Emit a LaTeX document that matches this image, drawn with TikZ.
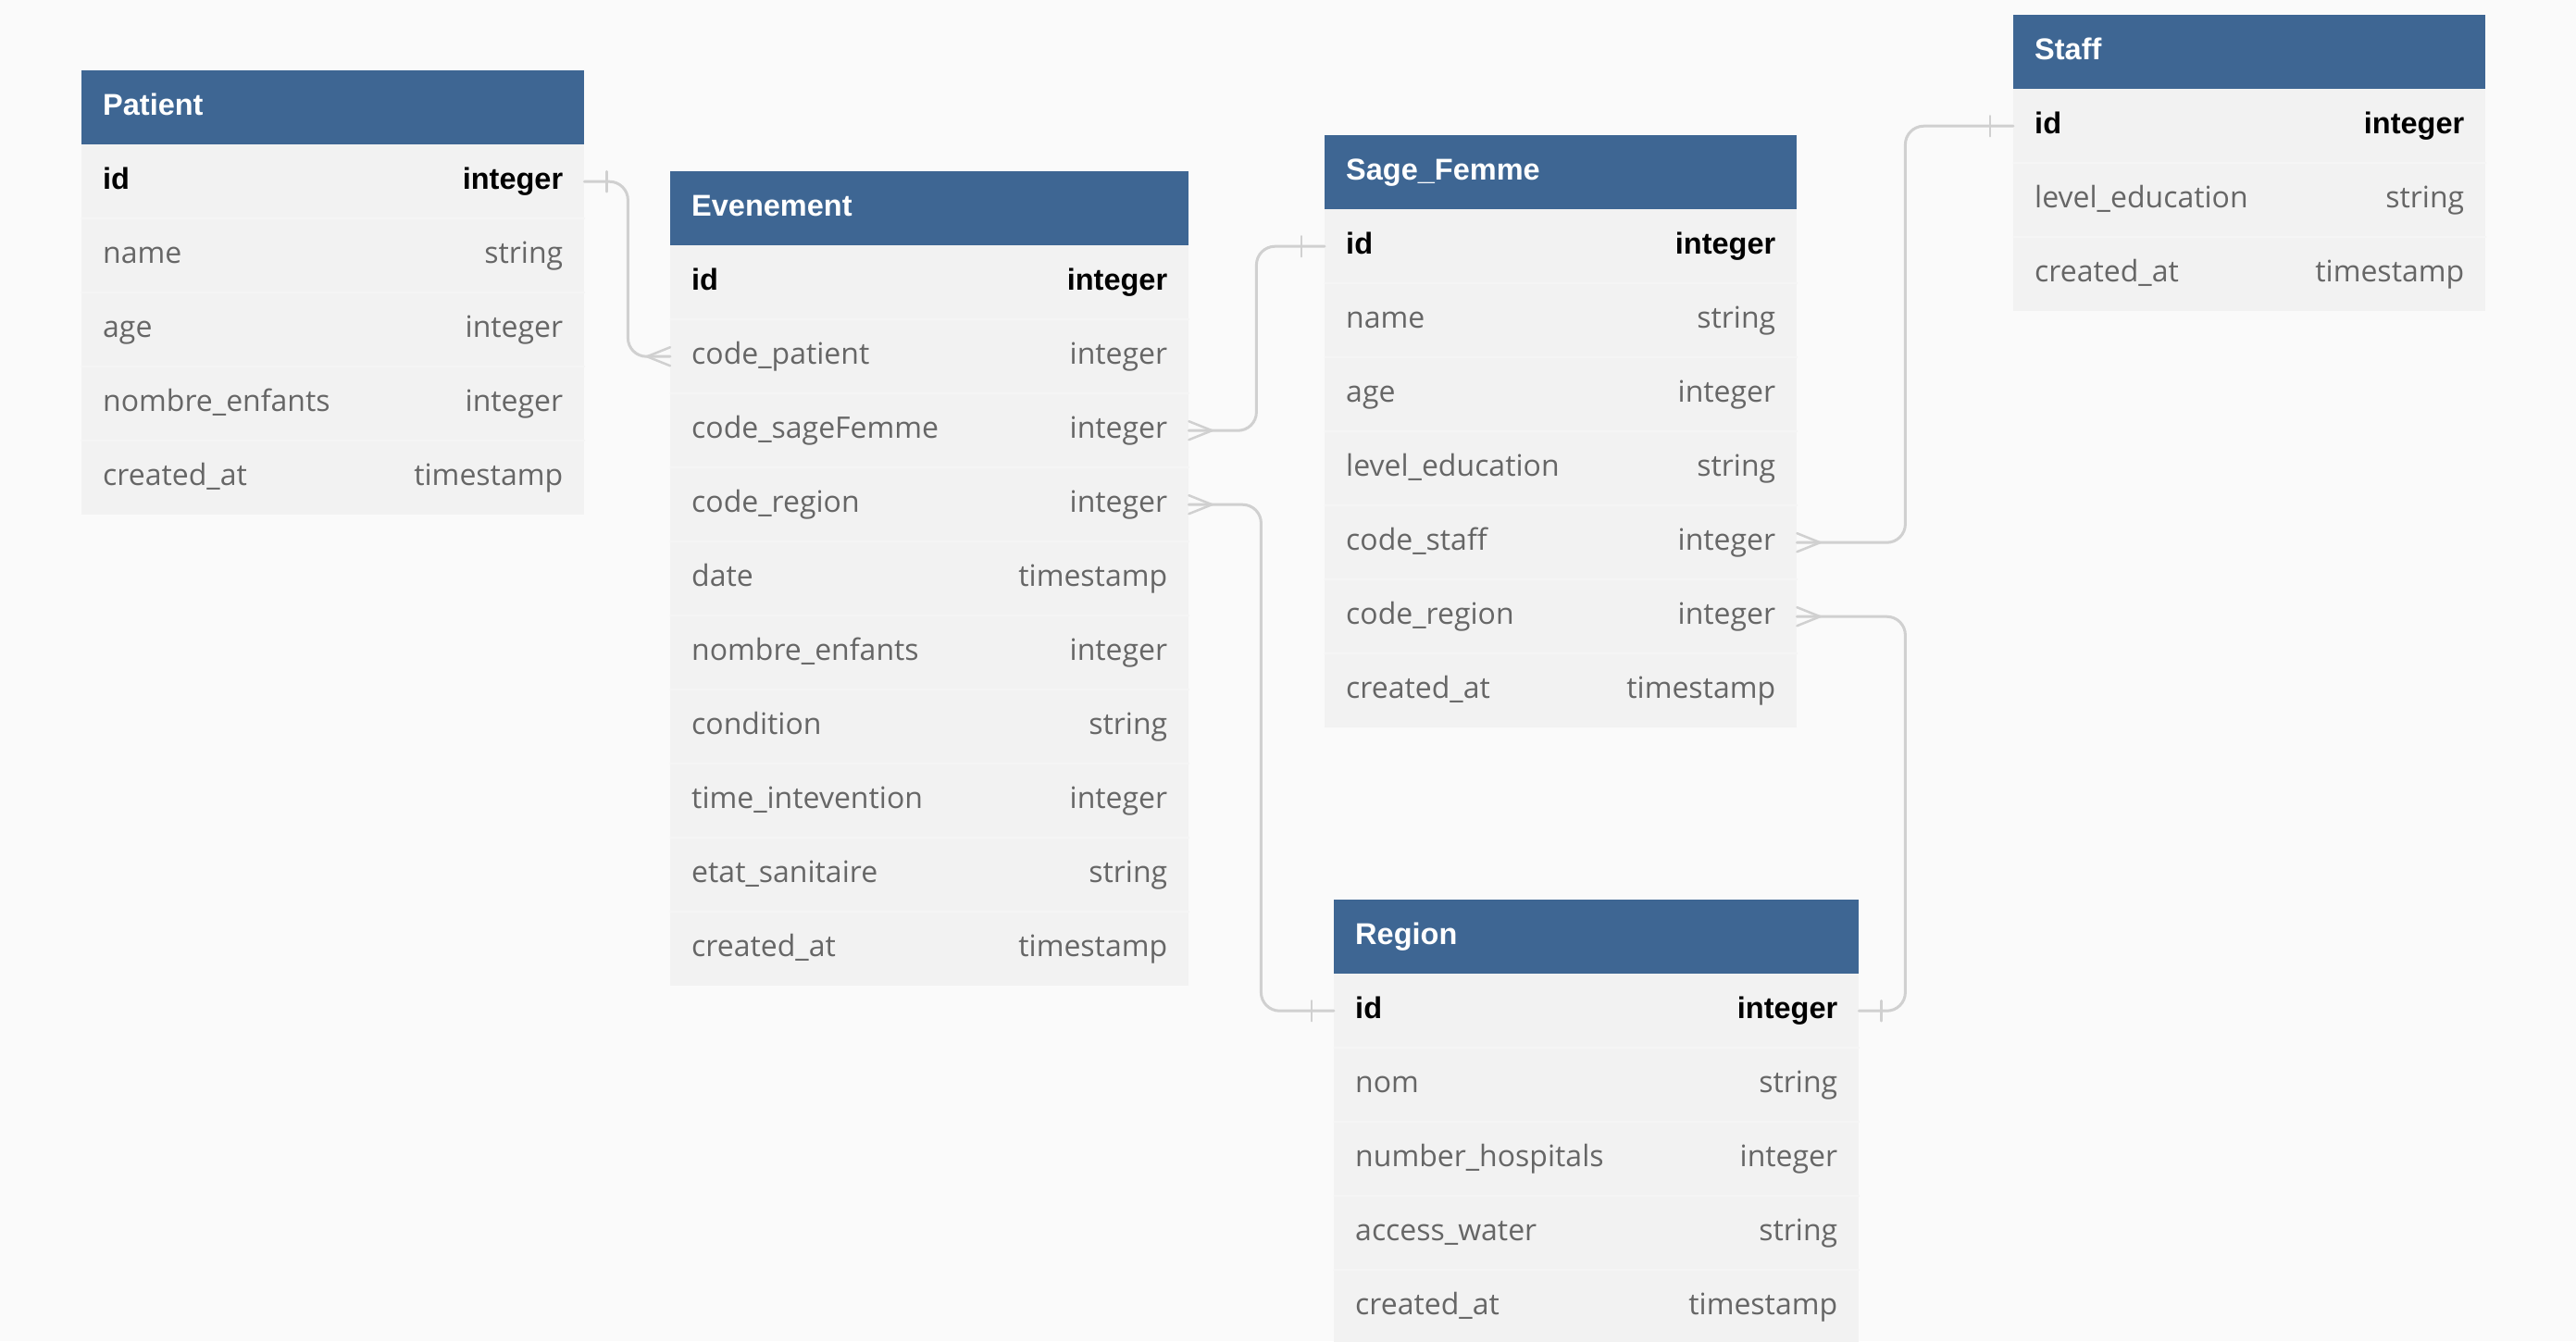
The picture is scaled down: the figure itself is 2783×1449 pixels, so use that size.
\documentclass[tikz,border=0pt]{standalone}
\usepackage{fontspec}
\setmainfont{Open Sans}
\newfontfamily\hfont{Liberation Sans}
\definecolor{hdblue}{HTML}{3E6693}
\definecolor{rowgray}{HTML}{F2F2F2}
\definecolor{bggray}{HTML}{FAFAFA}
\definecolor{txtgray}{HTML}{666666}
\definecolor{relgray}{HTML}{D0D0D0}
\definecolor{sepgray}{HTML}{F5F5F5}
\begin{document}
\begin{tikzpicture}[x=1pt, y=-1pt, line join=round, line cap=round,
	hd/.style={anchor=north west, fill=hdblue, text=white, minimum height=80pt, inner xsep=23pt, inner ysep=0pt, font=\fontsize{32.5}{40}\hfont\bfseries},
	keyrow/.style={anchor=north west, fill=rowgray, text=black, minimum height=80pt, inner xsep=23pt, inner ysep=0pt, font=\fontsize{32.5}{40}\hfont\bfseries},
	row/.style={anchor=north west, fill=rowgray, text=txtgray, minimum height=80pt, inner xsep=23pt, inner ysep=0pt, font=\fontsize{32}{40}\selectfont},
	sep/.style={draw=sepgray, line width=1.2pt},
	rel/.style={draw=relgray, line width=3pt, rounded corners=20pt},
	tick/.style={draw=relgray, line width=2.5pt}]
	\fill[bggray] (0,0) rectangle (2783,1449);
	\useasboundingbox (0,0) rectangle (2783,1449);
	% bang Patient
	\def\w{497}
	\node[hd] (pat) at (88,76) {\makebox[\w pt][l]{\strut Patient}};
	\node[keyrow] (pat1) at (88,156) {\makebox[\w pt]{\strut id\hfill integer}};
	\foreach \n/\t [count=\i from 2] in {name/string,age/integer,nombre\_enfants/integer,created\_at/timestamp}
	\node[row] (pat\i) at (88,76+80*\i) {\makebox[\w pt]{\strut\n\hfill\t}};
	% bang Evenement
	\def\w{514}
	\node[hd] (eve) at (724,185) {\makebox[\w pt][l]{\strut Evenement}};
	\node[keyrow] (eve1) at (724,265) {\makebox[\w pt]{\strut id\hfill integer}};
	\foreach \n/\t [count=\i from 2] in {code\_patient/integer,code\_sageFemme/integer,code\_region/integer,date/timestamp,nombre\_enfants/integer,condition/string,time\_intevention/integer,etat\_sanitaire/string,created\_at/timestamp}
	\node[row] (eve\i) at (724,185+80*\i) {\makebox[\w pt]{\strut\n\hfill\t}};
	% bang Sage_Femme
	\def\w{464}
	\node[hd] (sag) at (1431,146) {\makebox[\w pt][l]{\strut Sage\_Femme}};
	\node[keyrow] (sag1) at (1431,226) {\makebox[\w pt]{\strut id\hfill integer}};
	\foreach \n/\t [count=\i from 2] in {name/string,age/integer,level\_education/string,code\_staff/integer,code\_region/integer,created\_at/timestamp}
	\node[row] (sag\i) at (1431,146+80*\i) {\makebox[\w pt]{\strut\n\hfill\t}};
	% bang Staff
	\def\w{464}
	\node[hd] (sta) at (2175,16) {\makebox[\w pt][l]{\strut Staff}};
	\node[keyrow] (sta1) at (2175,96) {\makebox[\w pt]{\strut id\hfill integer}};
	\foreach \n/\t [count=\i from 2] in {level\_education/string,created\_at/timestamp}
	\node[row] (sta\i) at (2175,16+80*\i) {\makebox[\w pt]{\strut\n\hfill\t}};
	% bang Region
	\def\w{521}
	\node[hd] (reg) at (1441,972) {\makebox[\w pt][l]{\strut Region}};
	\node[keyrow] (reg1) at (1441,1052) {\makebox[\w pt]{\strut id\hfill integer}};
	\foreach \n/\t [count=\i from 2] in {nom/string,number\_hospitals/integer,access\_water/string,created\_at/timestamp}
	\node[row] (reg\i) at (1441,972+80*\i) {\makebox[\w pt]{\strut\n\hfill\t}};
	% duong ke giua cac dong
	\foreach \b/\k in {pat/5,eve/10,sag/7,sta/3,reg/5}
	\foreach \i in {2,...,\k}
	\draw[sep] (\b\i.north west) -- (\b\i.north east);
	% cac quan he
	\draw[rel] (pat1.east) -- ++(47,0) |- (eve2.west);
	\draw[rel] (eve3.east) -- ++(73,0) |- (sag1.west);
	\draw[rel] (eve4.east) -- ++(78,0) |- (reg1.west);
	\draw[rel] (sag5.east) -- ++(117,0) |- (sta1.west);
	\draw[rel] (sag6.east) -- ++(117,0) |- (reg1.east);
	% vach "mot"
	\foreach \p/\s in {pat1.east/24,sag1.west/-25,reg1.west/-24,sta1.west/-25,reg1.east/24}
	\draw[tick] ([xshift=\s pt]\p) ++(0,-11) -- ++(0,22);
	% chan ga "nhieu"
	\foreach \p/\s in {eve2.west/-25,eve3.east/25,eve4.east/25,sag5.east/25,sag6.east/25}
	\draw[tick] ([xshift=\s pt]\p) -- ([yshift=10pt]\p) ([xshift=\s pt]\p) -- ([yshift=-10pt]\p);
\end{tikzpicture}
\end{document}
